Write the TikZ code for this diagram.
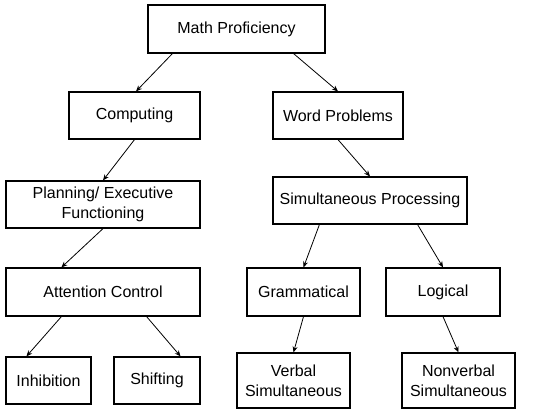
\documentclass[tikz,border=0pt]{standalone}
\usepackage{fontspec}
\setmainfont{Liberation Sans}
\usetikzlibrary{arrows.meta}

\tikzset{
    box/.style={draw, line width=1.2pt, align=center, inner sep=0pt,
        font=\fontsize{16}{20}\selectfont},
    arr/.style={-{Stealth[length=6pt,width=5pt]}, line width=0.8pt},
}

\begin{document}
\begin{tikzpicture}[x=1pt, y=-1pt]
        \useasboundingbox (0,0) rectangle (550,416);

        % boxes at their centres
        \node (math) at (236.5,29) [box, minimum width=177pt, minimum height=48pt] {Math Proficiency};
        \node (comp) at (134.5,115.5) [box, minimum width=131pt, minimum height=47pt] {Computing};
        \node (word) at (338,115.5) [box, minimum width=130pt, minimum height=47pt] {Word Problems};
        \node (plan) at (103,204.5) [box, minimum width=194pt, minimum height=47pt] {Planning/ Executive\\Functioning};
        \node (simu) at (370,200.5) [box, minimum width=194pt, minimum height=47pt] {Simultaneous Processing};
        \node (atten) at (103,292) [box, minimum width=194pt, minimum height=48pt] {Attention Control};
        \node (gram) at (303.5,292) [box, minimum width=113pt, minimum height=48pt] {Grammatical};
        \node (logic) at (443,292) [box, minimum width=114pt, minimum height=48pt] {Logical};
        \node (inhib) at (48.5,380.5) [box, minimum width=85pt, minimum height=47pt] {Inhibition};
        \node (shift) at (157,380.5) [box, minimum width=86pt, minimum height=47pt] {Shifting};
        \node (verbal) at (293.5,380.5) [box, minimum width=113pt, minimum height=55pt] {Verbal\\Simultaneous};
        \node (nonverb) at (458.5,380.5) [box, minimum width=113pt, minimum height=55pt] {Nonverbal\\Simultaneous};

        \draw [arr] ([xshift=25pt]math.south west) -- ([xshift=1.5pt]comp.north);
        \draw [arr] ([xshift=-32pt]math.south east) -- (word.north);
        \draw [arr] (comp.south) -- (plan.north);
        \draw [arr] (word.south) -- (simu.north);
        \draw [arr] (plan.south) -- ([xshift=56pt]atten.north west);
        \draw [arr] ([xshift=47pt]simu.south west) -- (gram.north);
        \draw [arr] ([xshift=-50pt]simu.south east) -- (logic.north);
        \draw [arr] ([xshift=56pt]atten.south west) -- ([xshift=21pt]inhib.north west);
        \draw [arr] ([xshift=-54pt]atten.south east) -- ([xshift=-20pt]shift.north east);
        \draw [arr] (gram.south) -- (verbal.north);
        \draw [arr] (logic.south) -- (nonverb.north);

    \end{tikzpicture}
\end{document}
